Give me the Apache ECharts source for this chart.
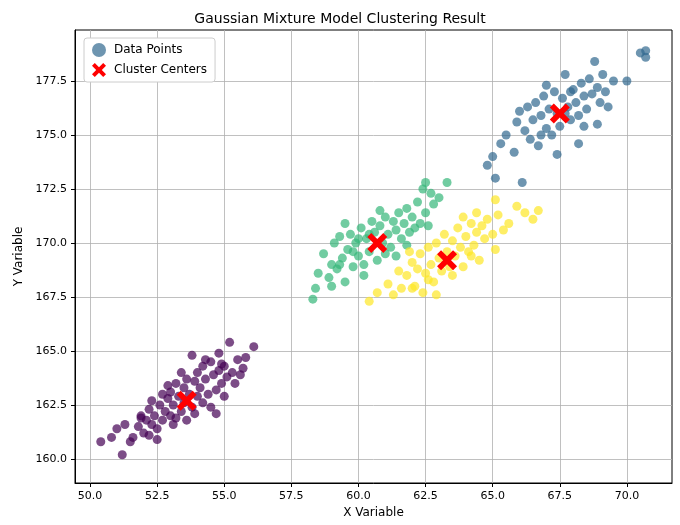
<!DOCTYPE html>
<html><head><meta charset="utf-8">
<script src="https://cdn.jsdelivr.net/npm/echarts@6/dist/echarts.min.js"></script>
<style>body{margin:0}#c{width:680px;height:525px}</style></head>
<body><div id="c"></div>
<script>
const cluster0 = [[50.4,160.8],[50.8,161.0],[51.2,160.2],[51.0,161.4],[51.3,161.6],[51.5,160.8],[51.6,161.0],[51.8,161.5],[51.9,162.0],[52.0,161.2],[52.1,161.8],[52.2,162.3],[52.3,161.6],[52.4,162.0],[52.5,161.4],[52.6,162.5],[52.7,161.8],[52.8,162.2],[52.9,162.8],[53.0,162.0],[53.0,163.1],[53.1,162.5],[53.2,161.9],[53.3,162.9],[53.4,162.2],[53.5,163.3],[53.5,162.6],[53.6,161.8],[53.7,163.0],[53.8,162.4],[53.9,163.6],[54.0,162.9],[54.0,164.0],[54.1,163.3],[54.2,162.6],[54.2,164.3],[54.3,163.7],[54.4,163.0],[54.5,164.5],[54.5,162.4],[54.6,163.9],[54.7,163.2],[54.8,164.1],[54.9,163.5],[55.0,162.9],[55.0,164.3],[55.1,163.8],[55.2,165.4],[55.3,164.0],[55.4,163.5],[55.5,164.6],[55.6,163.9],[55.8,164.7],[56.1,165.2],[53.4,164.0],[52.9,163.4],[53.8,164.8],[54.7,162.1],[52.5,160.9],[51.9,161.9],[53.2,163.5],[54.8,164.9],[55.7,164.2],[53.9,162.1],[52.3,162.7],[53.6,163.7],[54.3,164.6],[52.7,163.0],[54.9,164.4],[53.1,161.6],[52.2,161.1]];
const cluster1 = [[58.3,167.4],[58.4,167.9],[58.5,168.6],[58.7,169.5],[58.9,168.4],[59.0,169.0],[59.1,170.0],[59.2,168.8],[59.3,170.3],[59.4,169.3],[59.5,170.9],[59.5,168.2],[59.6,169.7],[59.7,170.4],[59.8,168.9],[59.9,170.0],[60.0,169.4],[60.1,170.7],[60.2,169.0],[60.3,170.2],[60.4,169.6],[60.5,171.0],[60.6,170.5],[60.7,169.2],[60.8,170.8],[60.9,170.0],[61.0,171.2],[61.1,170.4],[61.2,169.8],[61.3,171.0],[61.4,170.6],[61.5,171.4],[61.6,170.2],[61.7,170.9],[61.8,171.6],[61.9,170.5],[62.0,171.2],[62.1,170.7],[62.2,171.9],[62.3,170.9],[62.4,172.5],[62.5,171.4],[62.6,170.8],[62.8,171.8],[63.0,172.1],[63.3,172.8],[62.7,172.3],[62.5,172.8],[60.2,168.5],[59.0,168.0],[61.4,169.4],[60.8,171.5],[61.8,169.9],[59.8,169.6],[60.4,170.4],[61.0,169.5],[59.3,169.0],[60.0,170.2]];
const cluster2 = [[60.4,167.3],[60.7,167.7],[61.1,168.1],[61.3,167.6],[61.5,168.7],[61.6,167.9],[61.8,168.5],[62.0,169.1],[62.1,168.0],[62.2,168.8],[62.3,169.5],[62.4,167.7],[62.5,168.6],[62.6,169.8],[62.7,169.0],[62.8,168.2],[62.9,170.0],[63.0,169.3],[63.1,168.7],[63.2,170.4],[63.3,169.6],[63.4,168.9],[63.5,170.1],[63.6,169.4],[63.7,170.7],[63.8,169.8],[63.9,168.9],[64.0,170.3],[64.1,169.6],[64.2,170.9],[64.3,169.9],[64.4,170.5],[64.5,169.2],[64.6,170.8],[64.7,170.2],[64.8,171.1],[65.0,170.4],[65.1,169.7],[65.2,171.3],[65.4,170.6],[65.6,170.9],[65.9,171.7],[66.2,171.4],[66.5,171.1],[66.7,171.5],[65.1,172.0],[63.9,171.2],[64.4,171.4],[61.9,169.6],[62.9,167.6],[62.6,168.3],[63.5,168.5],[64.2,169.4],[62.0,167.9]];
const cluster3 = [[64.8,173.6],[65.0,174.0],[65.1,173.0],[65.3,174.6],[65.5,175.0],[65.8,174.2],[65.9,175.6],[66.1,172.8],[66.2,175.2],[66.3,176.3],[66.4,174.8],[66.5,175.7],[66.6,176.5],[66.7,174.5],[66.8,175.9],[66.9,176.8],[67.0,175.3],[67.1,176.2],[67.2,175.0],[67.3,177.0],[67.4,176.0],[67.5,175.4],[67.6,176.7],[67.7,177.8],[67.8,176.3],[67.9,175.7],[68.0,177.1],[68.1,176.5],[68.2,175.9],[68.3,177.4],[68.4,176.8],[68.5,176.2],[68.6,177.6],[68.7,176.9],[68.8,178.4],[68.9,177.2],[69.0,176.5],[69.1,177.8],[69.2,177.0],[69.3,176.3],[69.5,177.5],[70.0,177.5],[70.5,178.8],[70.7,178.9],[70.7,178.6],[68.2,174.6],[67.4,174.1],[66.0,176.1],[67.0,177.3],[68.9,175.5],[67.7,176.0],[68.4,175.4],[66.8,175.0],[67.9,177.0]];
const centers = [[53.6,162.7],[60.7,170.0],[63.3,169.2],[67.5,176.0]];
const colors = ['#440154','#35b779','#fde725','#31688e'];
const xTicks = [50,52.5,55,57.5,60,62.5,65,67.5,70];
const yTicks = [160,162.5,165,167.5,170,172.5,175,177.5];

const pts = [];
[cluster0,cluster1,cluster2,cluster3].forEach((c,i)=>c.forEach(p=>pts.push({value:p,itemStyle:{color:colors[i]}})));
const X = 'path://M-3,-5 L0,-2 L3,-5 L5,-3 L2,0 L5,3 L3,5 L0,2 L-3,5 L-5,3 L-2,0 L-5,-3 Z';
const font = 'DejaVu Sans';
const ax = (min,max,ticks,name,gap,rot)=>({type:'value',min,max,name,nameLocation:'middle',nameGap:gap,nameRotate:rot,
  nameTextStyle:{color:'#000',fontSize:12,fontFamily:font},
  axisLine:{show:true,onZero:false,lineStyle:{color:'#000'}},
  axisTick:{show:true,customValues:ticks,lineStyle:{color:'#000'},length:4},
  axisLabel:{customValues:ticks,formatter:v=>v.toFixed(1),color:'#000',fontSize:11,fontFamily:font},
  splitLine:{show:true,lineStyle:{color:'#b0b0b0',width:0.8}}});
const chart = echarts.init(document.getElementById('c'));
chart.setOption({
  animation:false,
  title:{text:'Gaussian Mixture Model Clustering Result',left:'center',top:7,textStyle:{fontSize:14,fontWeight:'normal',color:'#000',fontFamily:font}},
  grid:{left:75,right:8,top:30,bottom:42,show:true,borderColor:'#000',borderWidth:1},
  xAxis:ax(49.44,71.68,xTicks,'X Variable',24,0),
  yAxis:ax(158.89,179.86,yTicks,'Y Variable',50,90),
  legend:{orient:'vertical',left:84,top:38,itemGap:6,itemWidth:20,itemHeight:14,backgroundColor:'#fff',borderColor:'#ccc',borderWidth:1,borderRadius:3,padding:[5,8],
    textStyle:{fontSize:12,fontFamily:font,color:'#000'},
    data:[{name:'Data Points',itemStyle:{opacity:0.7},icon:'circle'},{name:'Cluster Centers'}]},
  series:[
    {name:'Data Points',type:'scatter',data:pts,symbolSize:9,itemStyle:{color:'#31688e',opacity:0.7}},
    {name:'Cluster Centers',type:'scatter',data:centers,symbol:X,symbolSize:20,itemStyle:{color:'#ff0000',opacity:1},z:5}
  ]
});
</script></body></html>
